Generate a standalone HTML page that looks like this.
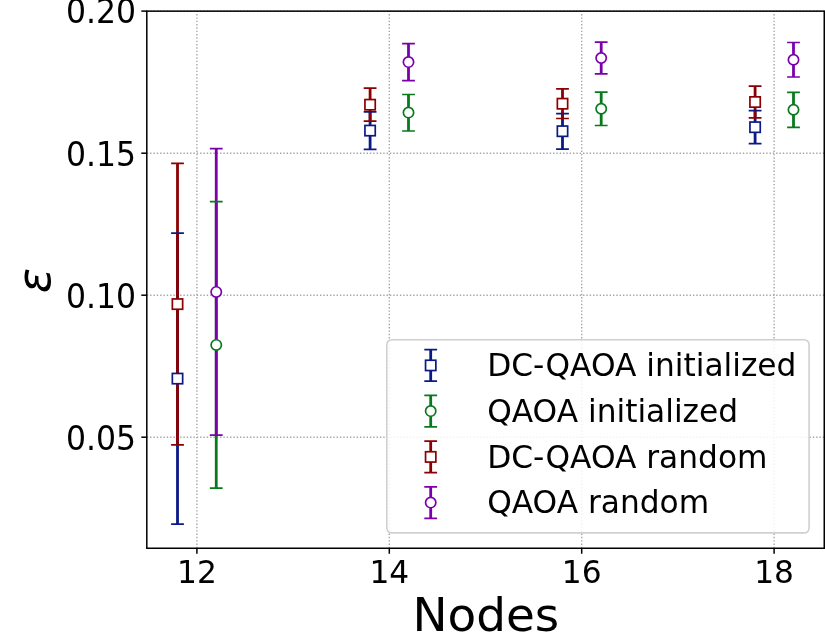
<!DOCTYPE html>
<html><head><meta charset="utf-8"><title>Nodes</title>
<style>html,body{margin:0;padding:0;background:#fff}svg{display:block}text{font-family:"DejaVu Sans","Liberation Sans",sans-serif;fill:#000}</style></head>
<body>
<svg width="825" height="632" viewBox="0 0 825 632">
<rect width="825" height="632" fill="#fff"/>
<g stroke="#a6a6a6" stroke-width="1.4" stroke-dasharray="1.4 1.93" fill="none">
<path d="M196.90 548.25V11.15"/>
<path d="M389.30 548.25V11.15"/>
<path d="M581.70 548.25V11.15"/>
<path d="M774.10 548.25V11.15"/>
<path d="M146.8 11.1H824.25"/>
<path d="M146.8 153.2H824.25"/>
<path d="M146.8 295.2H824.25"/>
<path d="M146.8 437.2H824.25"/>
</g>
<g stroke="#000" stroke-width="1.5" fill="none">
<path d="M196.90 548.25v5.5"/>
<path d="M389.30 548.25v5.5"/>
<path d="M581.70 548.25v5.5"/>
<path d="M774.10 548.25v5.5"/>
<path d="M146.8 11.1h-5.5"/>
<path d="M146.8 153.2h-5.5"/>
<path d="M146.8 295.2h-5.5"/>
<path d="M146.8 437.2h-5.5"/>
</g>
<g stroke="#0a1a85" stroke-width="2.8" fill="none">
<path d="M177.5 233.1V524.1"/>
<path d="M370.1 111.9V149.3"/>
<path d="M562.5 113.6V149.1"/>
<path d="M755.1 110.7V143.6"/>
</g>
<g stroke="#087a1c" stroke-width="2.8" fill="none">
<path d="M216.25 201.6V488.2"/>
<path d="M408.5 94.5V131.0"/>
<path d="M601.2 92.2V125.5"/>
<path d="M793.5 92.4V127.3"/>
</g>
<g stroke="#8b0000" stroke-width="2.8" fill="none">
<path d="M177.5 163.3V444.8"/>
<path d="M370.1 88.2V121.2"/>
<path d="M562.5 88.9V118.5"/>
<path d="M755.1 86.2V117.9"/>
</g>
<g stroke="#7a00ab" stroke-width="2.8" fill="none">
<path d="M216.25 148.6V435.2"/>
<path d="M408.5 43.6V80.7"/>
<path d="M601.2 42.1V73.9"/>
<path d="M793.5 42.5V77.0"/>
</g>
<rect x="172.35" y="373.45" width="10.3" height="10.3" fill="#fff" stroke="#0a1a85" stroke-width="1.7"/>
<rect x="364.95" y="125.45" width="10.3" height="10.3" fill="#fff" stroke="#0a1a85" stroke-width="1.7"/>
<rect x="557.35" y="126.05" width="10.3" height="10.3" fill="#fff" stroke="#0a1a85" stroke-width="1.7"/>
<rect x="749.95" y="122.05" width="10.3" height="10.3" fill="#fff" stroke="#0a1a85" stroke-width="1.7"/>
<g stroke="#0a1a85" stroke-width="1.7" fill="none">
<path d="M171.1 233.1h12.8M171.1 524.1h12.8"/>
<path d="M363.70000000000005 111.9h12.8M363.70000000000005 149.3h12.8"/>
<path d="M556.1 113.6h12.8M556.1 149.1h12.8"/>
<path d="M748.7 110.7h12.8M748.7 143.6h12.8"/>
</g>
<circle cx="216.25" cy="344.9" r="5.15" fill="#fff" stroke="#087a1c" stroke-width="1.7"/>
<circle cx="408.5" cy="112.6" r="5.15" fill="#fff" stroke="#087a1c" stroke-width="1.7"/>
<circle cx="601.2" cy="108.8" r="5.15" fill="#fff" stroke="#087a1c" stroke-width="1.7"/>
<circle cx="793.5" cy="109.8" r="5.15" fill="#fff" stroke="#087a1c" stroke-width="1.7"/>
<g stroke="#087a1c" stroke-width="1.7" fill="none">
<path d="M209.85 201.6h12.8M209.85 488.2h12.8"/>
<path d="M402.1 94.5h12.8M402.1 131.0h12.8"/>
<path d="M594.8000000000001 92.2h12.8M594.8000000000001 125.5h12.8"/>
<path d="M787.1 92.4h12.8M787.1 127.3h12.8"/>
</g>
<rect x="172.35" y="298.95" width="10.3" height="10.3" fill="#fff" stroke="#8b0000" stroke-width="1.7"/>
<rect x="364.95" y="99.55" width="10.3" height="10.3" fill="#fff" stroke="#8b0000" stroke-width="1.7"/>
<rect x="557.35" y="98.55" width="10.3" height="10.3" fill="#fff" stroke="#8b0000" stroke-width="1.7"/>
<rect x="749.95" y="96.85" width="10.3" height="10.3" fill="#fff" stroke="#8b0000" stroke-width="1.7"/>
<g stroke="#8b0000" stroke-width="1.7" fill="none">
<path d="M171.1 163.3h12.8M171.1 444.8h12.8"/>
<path d="M363.70000000000005 88.2h12.8M363.70000000000005 121.2h12.8"/>
<path d="M556.1 88.9h12.8M556.1 118.5h12.8"/>
<path d="M748.7 86.2h12.8M748.7 117.9h12.8"/>
</g>
<circle cx="216.25" cy="291.9" r="5.15" fill="#fff" stroke="#7a00ab" stroke-width="1.7"/>
<circle cx="408.5" cy="62.1" r="5.15" fill="#fff" stroke="#7a00ab" stroke-width="1.7"/>
<circle cx="601.2" cy="58.0" r="5.15" fill="#fff" stroke="#7a00ab" stroke-width="1.7"/>
<circle cx="793.5" cy="59.7" r="5.15" fill="#fff" stroke="#7a00ab" stroke-width="1.7"/>
<g stroke="#7a00ab" stroke-width="1.7" fill="none">
<path d="M209.85 148.6h12.8M209.85 435.2h12.8"/>
<path d="M402.1 43.6h12.8M402.1 80.7h12.8"/>
<path d="M594.8000000000001 42.1h12.8M594.8000000000001 73.9h12.8"/>
<path d="M787.1 42.5h12.8M787.1 77.0h12.8"/>
</g>
<rect x="146.8" y="11.15" width="677.45" height="537.10" fill="none" stroke="#000" stroke-width="1.5" stroke-linejoin="miter"/>
<text transform="translate(136.0 23.4) scale(1 1.045)" font-size="31.5" text-anchor="end">0.20</text>
<text transform="translate(136.0 165.5) scale(1 1.045)" font-size="31.5" text-anchor="end">0.15</text>
<text transform="translate(136.0 307.5) scale(1 1.045)" font-size="31.5" text-anchor="end">0.10</text>
<text transform="translate(136.0 449.5) scale(1 1.045)" font-size="31.5" text-anchor="end">0.05</text>
<text x="196.90" y="583.0" font-size="31.25" text-anchor="middle">12</text>
<text x="389.30" y="583.0" font-size="31.25" text-anchor="middle">14</text>
<text x="581.70" y="583.0" font-size="31.25" text-anchor="middle">16</text>
<text x="774.10" y="583.0" font-size="31.25" text-anchor="middle">18</text>
<text x="485.9" y="630.9" font-size="46.9" text-anchor="middle">Nodes</text>
<text transform="translate(49.5 280.6) rotate(-90)" font-size="46.9" font-style="italic" text-anchor="middle">ε</text>
<path d="M392.3 339.8H803.6Q809.1 339.8 809.1 345.3V527.4Q809.1 532.9 803.6 532.9H392.3Q386.8 532.9 386.8 527.4V345.3Q386.8 339.8 392.3 339.8Z" fill="#fff" fill-opacity="0.85" stroke="#d0d0d0" stroke-width="1.57"/>
<path d="M430.7 349.7V381.1" stroke="#0a1a85" stroke-width="2.8"/>
<rect x="425.55" y="360.25" width="10.3" height="10.3" fill="#fff" stroke="#0a1a85" stroke-width="1.7"/>
<path d="M424.3 349.7h12.8M424.3 381.1h12.8" stroke="#0a1a85" stroke-width="1.7"/>
<text x="487.2" y="376.0" font-size="31.25">DC-QAOA initialized</text>
<path d="M430.7 395.4V426.8" stroke="#087a1c" stroke-width="2.8"/>
<circle cx="430.7" cy="411.1" r="5.15" fill="#fff" stroke="#087a1c" stroke-width="1.7"/>
<path d="M424.3 395.4h12.8M424.3 426.8h12.8" stroke="#087a1c" stroke-width="1.7"/>
<text x="487.2" y="421.8" font-size="31.25">QAOA initialized</text>
<path d="M430.7 441.2V472.6" stroke="#8b0000" stroke-width="2.8"/>
<rect x="425.55" y="451.75" width="10.3" height="10.3" fill="#fff" stroke="#8b0000" stroke-width="1.7"/>
<path d="M424.3 441.2h12.8M424.3 472.6h12.8" stroke="#8b0000" stroke-width="1.7"/>
<text x="487.2" y="467.5" font-size="31.25">DC-QAOA random</text>
<path d="M430.7 486.9V518.4" stroke="#7a00ab" stroke-width="2.8"/>
<circle cx="430.7" cy="502.6" r="5.15" fill="#fff" stroke="#7a00ab" stroke-width="1.7"/>
<path d="M424.3 486.9h12.8M424.3 518.4h12.8" stroke="#7a00ab" stroke-width="1.7"/>
<text x="487.2" y="513.2" font-size="31.25">QAOA random</text>
</svg>
</body></html>
